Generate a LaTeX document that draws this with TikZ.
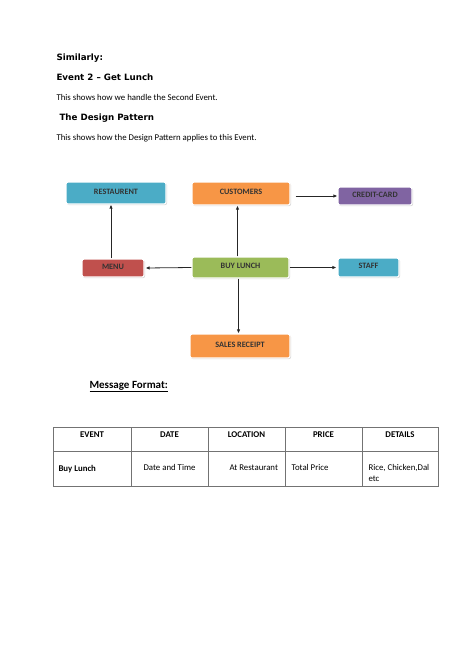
\documentclass[tikz,border=0pt]{standalone}
\usepackage{fontspec}
\setmainfont{Carlito}
\newfontfamily\headfont{DejaVu Sans}
\usetikzlibrary{arrows.meta,shadows}

\definecolor{boxcyan}{HTML}{4BACC6}
\definecolor{boxorange}{HTML}{F79646}
\definecolor{boxpurple}{HTML}{8064A2}
\definecolor{boxred}{HTML}{C0504D}
\definecolor{boxgreen}{HTML}{9BBB59}

\tikzset{
  box/.style={draw=white, line width=1.2pt, rounded corners=2pt, inner sep=0pt,
    text height=5.5pt, text depth=3.5pt,
    font=\bfseries\fontsize{8.2}{9}\selectfont, text=black!80,
    drop shadow={opacity=0.3, shadow xshift=1pt, shadow yshift=-1.2pt}},
  link/.style={-{Latex[length=4pt,width=3.5pt]}, line width=0.8pt, black!85},
  head/.style={anchor=base west, font=\headfont\bfseries\fontsize{8.7}{10}\selectfont},
  body/.style={anchor=base west, font=\fontsize{8.8}{10}\selectfont},
  cell/.style={font=\fontsize{8.8}{10}\selectfont},
  hcell/.style={font=\bfseries\fontsize{8.8}{10}\selectfont},
}

\begin{document}
\begin{tikzpicture}[x=1pt, y=-1pt]
	\useasboundingbox (0,0) rectangle (474,670);
	
	% intro text
	\node[head] (similarly) at (53,60) {Similarly:};
	\node[head] (event) at (53,80) {Event 2 \textendash{} Get Lunch};
	\node[body] (handle) at (53,100) {This shows how we handle the Second Event.};
	\node[head] (pattern) at (56,120) {The Design Pattern};
	\node[body] (applies) at (53,140) {This shows how the Design Pattern applies to this Event.};
	
	% design pattern boxes
	\node[box, fill=boxcyan, minimum width=100pt, minimum height=22pt] (restaurent) at (116,193) {RESTAURENT};
	\node[box, fill=boxorange, minimum width=98pt, minimum height=23pt] (customers) at (241,193.5) {CUSTOMERS};
	\node[box, fill=boxpurple, minimum width=74pt, minimum height=18pt] (creditcard) at (375,196) {CREDIT-CARD};
	\node[box, fill=boxred, minimum width=62pt, minimum height=18pt] (menu) at (113,268) {MENU};
	\node[box, fill=boxgreen, minimum width=97pt, minimum height=21pt] (buylunch) at (240.5,267.5) {BUY LUNCH};
	\node[box, fill=boxcyan, minimum width=61pt, minimum height=19pt] (staff) at (368.5,267.5) {STAFF};
	\node[box, fill=boxorange, minimum width=100pt, minimum height=24pt] (receipt) at (240,346) {SALES RECEIPT};
	
	\draw[link] ([xshift=-2pt]menu.north) -- ([xshift=-2pt]menu.north |- restaurent.south);
	\draw[link] ([xshift=-3pt]buylunch.north) -- ([xshift=-3pt]buylunch.north |- customers.south);
	\draw[link] ([xshift=5pt]customers.east |- creditcard.west) -- (creditcard.west);
	\draw[link] (buylunch.west) -- ([xshift=1pt]menu.east);
	\draw[link] (buylunch.east) -- ([xshift=-1pt]staff.west);
	\draw[link] ([xshift=-2pt]buylunch.south) -- ([xshift=-2pt]buylunch.south |- receipt.north);
	
	% message format table
	\node[anchor=base west, font=\bfseries\fontsize{11}{13}\selectfont] (msgformat) at (86,388) {\underline{Message Format:}};
	
	\draw[black!55, line width=0.6pt] (53,427) rectangle (438,486);
	\draw[black!55, line width=0.6pt] (53,451) -- (438,451);
	\foreach \xx in {131,208,285,362}
		\draw[black!55, line width=0.6pt] (\xx,427) -- (\xx,486);
	
	\node[hcell] (hevent) at (92,435) {EVENT};
	\node[hcell] (hdate) at (169.5,435) {DATE};
	\node[hcell] (hlocation) at (246.5,435) {LOCATION};
	\node[hcell] (hprice) at (323.5,435) {PRICE};
	\node[hcell] (hdetails) at (400,435) {DETAILS};
	
	\node[body, hcell] (vevent) at (55,471) {Buy Lunch};
	\node[body] (vdate) at (140,470) {Date and Time};
	\node[body] (vlocation) at (226,470) {At Restaurant};
	\node[body] (vprice) at (288,470) {Total Price};
	\node[body] (vdetails) at (365,470) {Rice, Chicken,Dal};
	\node[body] (vetc) at (365,481) {etc};
\end{tikzpicture}
\end{document}
